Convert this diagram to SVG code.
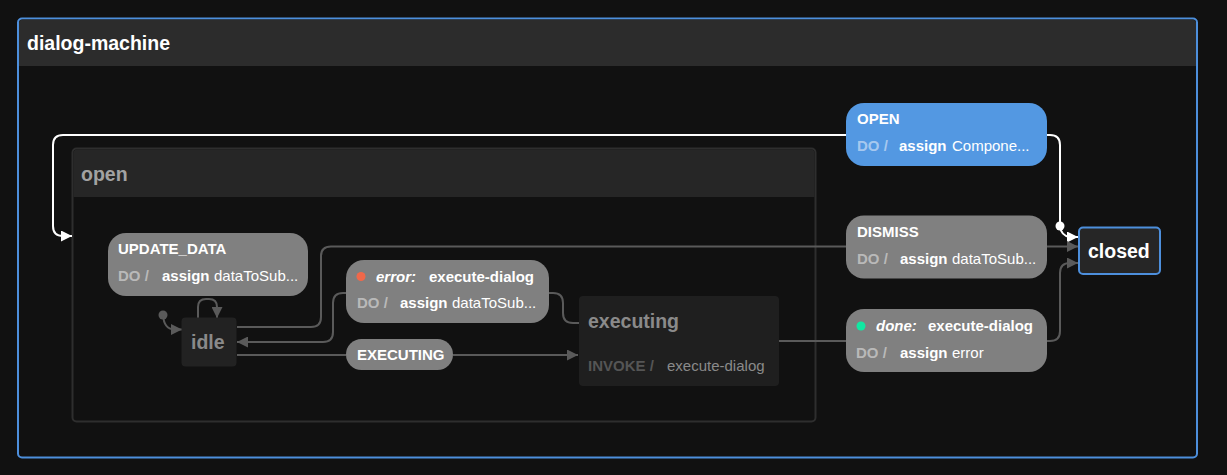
<svg xmlns="http://www.w3.org/2000/svg" width="1227" height="475" viewBox="0 0 1227 475">
<style>
text{font-family:"Liberation Sans",Arial,sans-serif}
.title{font-size:19.5px;font-weight:bold}
.lbl{font-size:15px;font-weight:bold;fill:#fff}
.do{font-size:15px;font-weight:bold;fill:#b9b9b9}
.act{font-size:15px;fill:#fff}
.act b,.b{font-weight:bold}
.gbox{fill:#808080}
.edge{fill:none;stroke:#5a5a5a;stroke-width:2}
.wedge{fill:none;stroke:#fff;stroke-width:2}
</style>
<defs>
<marker id="ag" viewBox="0 0 10 10" refX="10" refY="5" markerWidth="11" markerHeight="11" markerUnits="userSpaceOnUse" orient="auto"><path d="M0,0 L10,5 L0,10 z" fill="#5a5a5a"/></marker>
<marker id="aw" viewBox="0 0 10 10" refX="10" refY="5" markerWidth="11" markerHeight="11" markerUnits="userSpaceOnUse" orient="auto"><path d="M0,0 L10,5 L0,10 z" fill="#fff"/></marker>
</defs>
<rect width="1227" height="475" fill="#111"/>

<g id="dialog-machine">
<rect x="18" y="18.5" width="1179" height="439" rx="4" fill="#111" stroke="#4d8fdc" stroke-width="2"/>
<path d="M19,66 V23 Q19,19.5 23,19.5 H1192 Q1196,19.5 1196,23 V66 Z" fill="#2c2c2c"/>
<text class="title" x="27" y="50" fill="#fff">dialog-machine</text>
</g>

<g id="open">
<rect x="72.5" y="148.5" width="743" height="273" rx="4" fill="#111" stroke="#2e2e2e" stroke-width="2"/>
<path d="M73.5,197 V153 Q73.5,149.5 77,149.5 H811 Q814.5,149.5 814.5,153 V197 Z" fill="#262626"/>
<text class="title" x="81" y="181" fill="#a2a2a2">open</text>
</g>

<g id="connectors">
<path class="wedge" d="M846,135 H63 Q53,135 53,145 V226 Q53,236 63,236 H72" marker-end="url(#aw)"/>
<path class="wedge" d="M1047,135 H1050 Q1060,135 1060,145 V226"/>
<circle cx="1060" cy="226" r="4.5" fill="#fff"/>
<path class="wedge" d="M1060,226 Q1061,236 1070,237 H1078" marker-end="url(#aw)"/>

<path class="edge" d="M237,327 H311 Q321,327 321,317 V256 Q321,246.5 331,246.5 H846"/>
<path class="edge" d="M1047,246.5 H1078" marker-end="url(#ag)"/>

<path class="edge" d="M579,323 H573 Q563,323 563,313 V303 Q563,293 553,293 H549"/>
<path class="edge" d="M346,293 H343 Q333,293 333,303 V332 Q333,342 323,342 H237" marker-end="url(#ag)"/>

<path class="edge" d="M237,355 H346"/>
<path class="edge" d="M453,355 H578" marker-end="url(#ag)"/>

<path class="edge" d="M779,341 H846"/>
<path class="edge" d="M1047,341 H1050 Q1060,341 1060,331 V273 Q1060,263 1070,263 H1078" marker-end="url(#ag)"/>

<circle cx="163" cy="315" r="4.5" fill="#5a5a5a"/>
<path class="edge" d="M163,315 Q164,329 174,329.5 H182" marker-end="url(#ag)"/>
<path class="edge" d="M198,318 V307 Q198,299 206,299 H209 Q217,299 217,307 V318" marker-end="url(#ag)"/>
</g>

<g id="idle">
<rect x="181.5" y="317.5" width="55" height="49" rx="4" fill="#222"/>
<text class="title" x="191" y="349" fill="#8a8a8a">idle</text>
</g>

<g id="executing">
<rect x="579" y="296" width="200" height="90" rx="4" fill="#1f1f1f"/>
<text class="title" x="588" y="328" fill="#8a8a8a">executing</text>
<text x="588" y="371" font-size="15" font-weight="bold" fill="#555">INVOKE /</text>
<text x="667" y="371" font-size="15" fill="#8a8a8a">execute-dialog</text>
</g>

<g id="closed">
<rect x="1079" y="227.5" width="81" height="46.5" rx="4" fill="#262626" stroke="#4d8fdc" stroke-width="2"/>
<text class="title" x="1088" y="258" fill="#fff">closed</text>
</g>

<g id="t-open">
<rect x="846" y="103" width="201" height="63" rx="18" fill="#5398e2"/>
<text class="lbl" x="857" y="124">OPEN</text>
<text class="do" x="857" y="151" fill="#a6c8ef" style="fill:#a6c8ef">DO /</text>
<text class="act" x="899" y="151"><tspan class="b">assign</tspan></text>
<text class="act" x="952" y="151">Compone...</text>
</g>

<g id="t-dismiss">
<rect class="gbox" x="846" y="215.5" width="201" height="63" rx="18"/>
<text class="lbl" x="857" y="237">DISMISS</text>
<text class="do" x="857" y="264">DO /</text>
<text class="act b" x="900" y="264">assign</text>
<text class="act" x="952" y="264">dataToSub...</text>
</g>

<g id="t-update-data">
<rect class="gbox" x="108" y="233" width="200" height="63" rx="18"/>
<text class="lbl" x="118" y="254">UPDATE_DATA</text>
<text class="do" x="118" y="281">DO /</text>
<text class="act b" x="162" y="281">assign</text>
<text class="act" x="214" y="281">dataToSub...</text>
</g>

<g id="t-error">
<rect class="gbox" x="346" y="260" width="203" height="63" rx="18"/>
<circle cx="361" cy="276.5" r="4.5" fill="#f0684a"/>
<text class="lbl" x="376" y="282" font-style="italic">error:</text>
<text class="lbl" x="429" y="282">execute-dialog</text>
<text class="do" x="357" y="308">DO /</text>
<text class="act b" x="400" y="308">assign</text>
<text class="act" x="452" y="308">dataToSub...</text>
</g>

<g id="t-executing">
<rect class="gbox" x="346" y="339" width="107" height="31" rx="15.5"/>
<text class="lbl" x="357" y="360">EXECUTING</text>
</g>

<g id="t-done">
<rect class="gbox" x="846" y="309" width="201" height="63" rx="18"/>
<circle cx="861" cy="326" r="4.5" fill="#10e8a2"/>
<text class="lbl" x="876" y="331" font-style="italic">done:</text>
<text class="lbl" x="928" y="331">execute-dialog</text>
<text class="do" x="856" y="358">DO /</text>
<text class="act b" x="900" y="358">assign</text>
<text class="act" x="952" y="358">error</text>
</g>
</svg>
